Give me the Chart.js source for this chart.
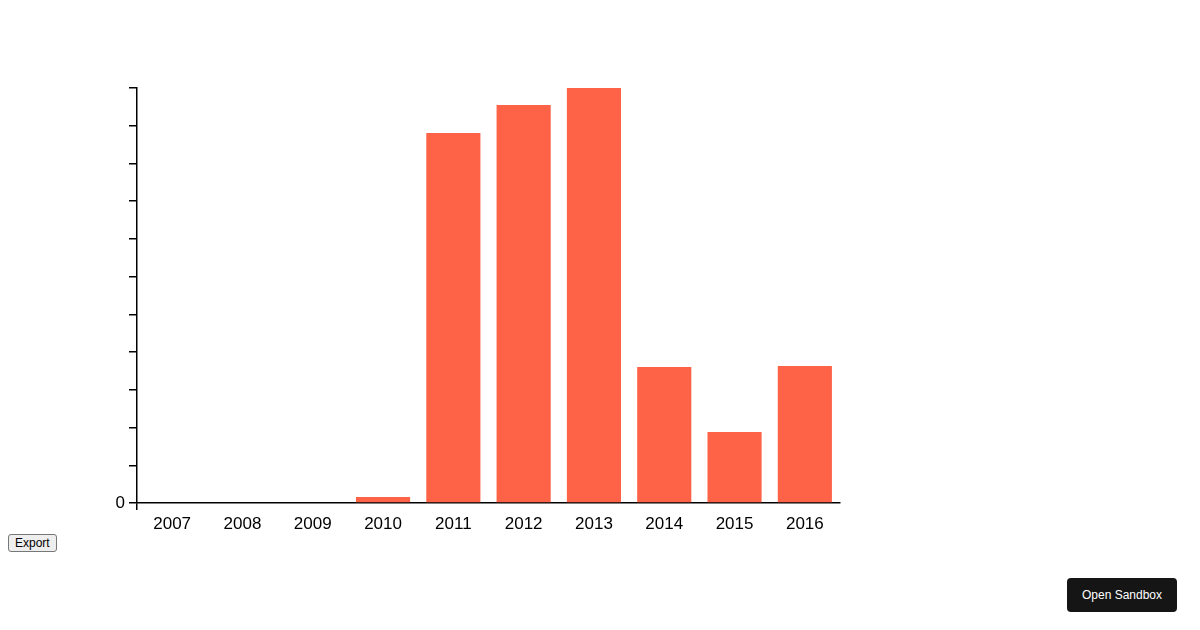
<!DOCTYPE html>
<html><head><meta charset="utf-8">
<script src="https://cdn.jsdelivr.net/npm/chart.js@4"></script>
<style>
body{margin:0;background:#fff;font-family:"Liberation Sans",Arial,sans-serif;}
#wrap{position:absolute;left:0;top:0;width:900px;height:540px;}
#exp{position:absolute;left:8px;top:534px;font:12px "Liberation Sans",Arial;padding:1px 6px;border:1px solid #777;border-radius:3px;background:#eee;}
#sb{position:absolute;left:1067px;top:578px;width:110px;height:34px;background:#151515;color:#fff;border:none;border-radius:4px;font:12px "Liberation Sans",Arial;}
</style></head><body>
<div id="wrap"><canvas id="c"></canvas></div>
<button id="exp">Export</button>
<button id="sb">Open Sandbox</button>
<script>
const categories=["2007","2008","2009","2010","2011","2012","2013","2014","2015","2016"];
const values=[0,0,0,31000,1927000,2073000,2161000,708000,370000,714000];
const yMax=2161000;
function fmt(v){
  if(v===0)return "0";
  if(v%200000!==0)return "";
  if(v>=1e6)return String(v/1e6).replace(".",",")+"M";
  return (v/1000)+"k";
}
new Chart(document.getElementById("c"),{
  type:"bar",
  data:{labels:categories,datasets:[{data:values,backgroundColor:"#ff6347",barPercentage:0.77,categoryPercentage:1}]},
  options:{responsive:true,maintainAspectRatio:false,animation:false,
    layout:{padding:{top:88,right:60,left:0,bottom:0}},
    plugins:{legend:{display:false},tooltip:{enabled:false}},
    scales:{
      x:{offset:true,
        grid:{offset:true,drawOnChartArea:false,tickLength:7,lineWidth:1.5,
          color:c=>(c.index===0||c.index===categories.length)?"#000":"rgba(0,0,0,0)"},
        border:{color:"#000",width:1.5},
        ticks:{color:"#000",font:{family:"Liberation Sans",size:17},padding:4,maxRotation:0},
        afterFit:s=>{s.height=37;}},
      y:{min:0,max:yMax,
        grid:{drawOnChartArea:false,tickLength:8,color:"#000",lineWidth:1.5},
        border:{color:"#000",width:1.5},
        ticks:{stepSize:200000,color:"#000",font:{family:"Liberation Sans",size:17},padding:4,callback:v=>fmt(v)},
        afterFit:s=>{s.width=137;}}
    }}
});
</script></body></html>
